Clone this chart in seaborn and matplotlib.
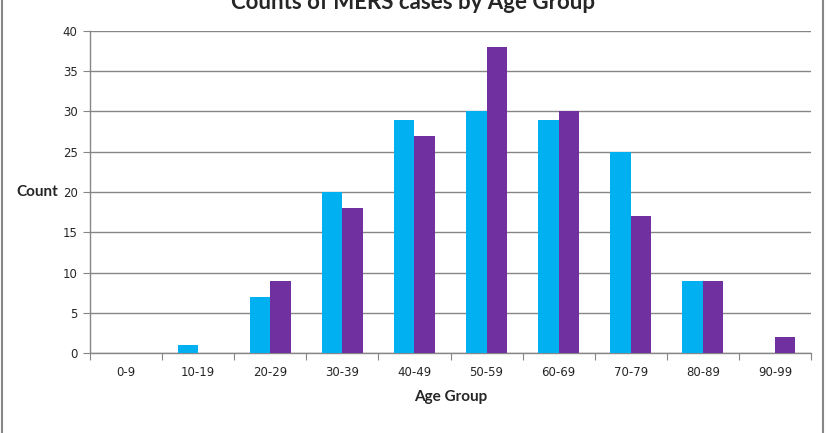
import pandas as pd
import matplotlib
matplotlib.use("Agg")
import matplotlib.pyplot as plt
import matplotlib.patches as mpatches
import seaborn as sns

age_groups = ['0-9', '10-19', '20-29', '30-39', '40-49', '50-59', '60-69', '70-79', '80-89', '90-99']
south_korea = [0, 1, 7, 20, 29, 30, 29, 25, 9, 0]
saudi_arabia = [0, 0, 9, 18, 27, 38, 30, 17, 9, 2]
countries = ['South Korea', 'Saudi Arabia']
colors = ['#00B0F0', '#7030A0']
y_ticks = [0, 5, 10, 15, 20, 25, 30, 35, 40]

df = pd.DataFrame({
    'Age Group': age_groups * 2,
    'Count': south_korea + saudi_arabia,
    'Country': [countries[0]] * len(age_groups) + [countries[1]] * len(age_groups),
})

sns.set_style('white')
plt.rcParams['font.family'] = ['Lato', 'DejaVu Sans']

fig = plt.figure(figsize=(8.26, 4.33), dpi=100)
ax = fig.add_axes([90 / 826, 80 / 433, 721 / 826, 322 / 433])

sns.barplot(data=df, x='Age Group', y='Count', hue='Country', hue_order=countries,
            palette=colors, saturation=1, width=0.57, gap=0, ax=ax, legend=False,
            linewidth=0, edgecolor='none', zorder=3)

grey = '#868686'
ax.set_ylim(0, 40)
ax.set_xlim(-0.5, len(age_groups) - 0.5)
ax.set_yticks(y_ticks)
ax.set_yticklabels([str(v) for v in y_ticks], fontsize=8.5, family='DejaVu Sans')
ax.yaxis.grid(True, color=grey, linewidth=1, zorder=0)
ax.set_axisbelow(True)

# tick marks between categories, labels at centres
ax.set_xticks([i - 0.5 for i in range(len(age_groups) + 1)])
ax.set_xticklabels([])
ax.set_xticks(range(len(age_groups)), minor=True)
ax.set_xticklabels(age_groups, minor=True, fontsize=8.5, family='DejaVu Sans')
ax.tick_params(axis='x', which='major', direction='out', length=5, color=grey, bottom=True)
ax.tick_params(axis='x', which='minor', length=0, pad=9)
ax.tick_params(axis='y', direction='out', length=5, color=grey, left=True, pad=4)

for s in ['top', 'right']:
    ax.spines[s].set_visible(False)
for s in ['left', 'bottom']:
    ax.spines[s].set_color(grey)
    ax.spines[s].set_linewidth(1)

ax.set_xlabel('Age Group', fontsize=11, fontweight='bold', labelpad=8)
ax.set_ylabel('Count', fontsize=11, fontweight='bold', rotation=0, labelpad=18, va='center')

fig.text(0.5, 1 - 9 / 433, 'Counts of MERS cases by Age Group', ha='center', va='baseline',
         fontsize=16, fontweight='bold')

handles = [mpatches.Patch(color=c, label=n) for c, n in zip(colors, countries)]
fig.legend(handles=handles, loc='upper center', bbox_to_anchor=(0.5, 1 - 418 / 433), ncol=2,
           frameon=False, fontsize=13, handlelength=0.8, handleheight=0.8, handletextpad=0.3,
           columnspacing=1.5)

fig.add_artist(mpatches.Rectangle((2 / 826, -0.05), 821 / 826, 1.1, transform=fig.transFigure,
                                  fill=False, edgecolor=grey, linewidth=1.5))

fig.savefig('out.png', dpi=100)
